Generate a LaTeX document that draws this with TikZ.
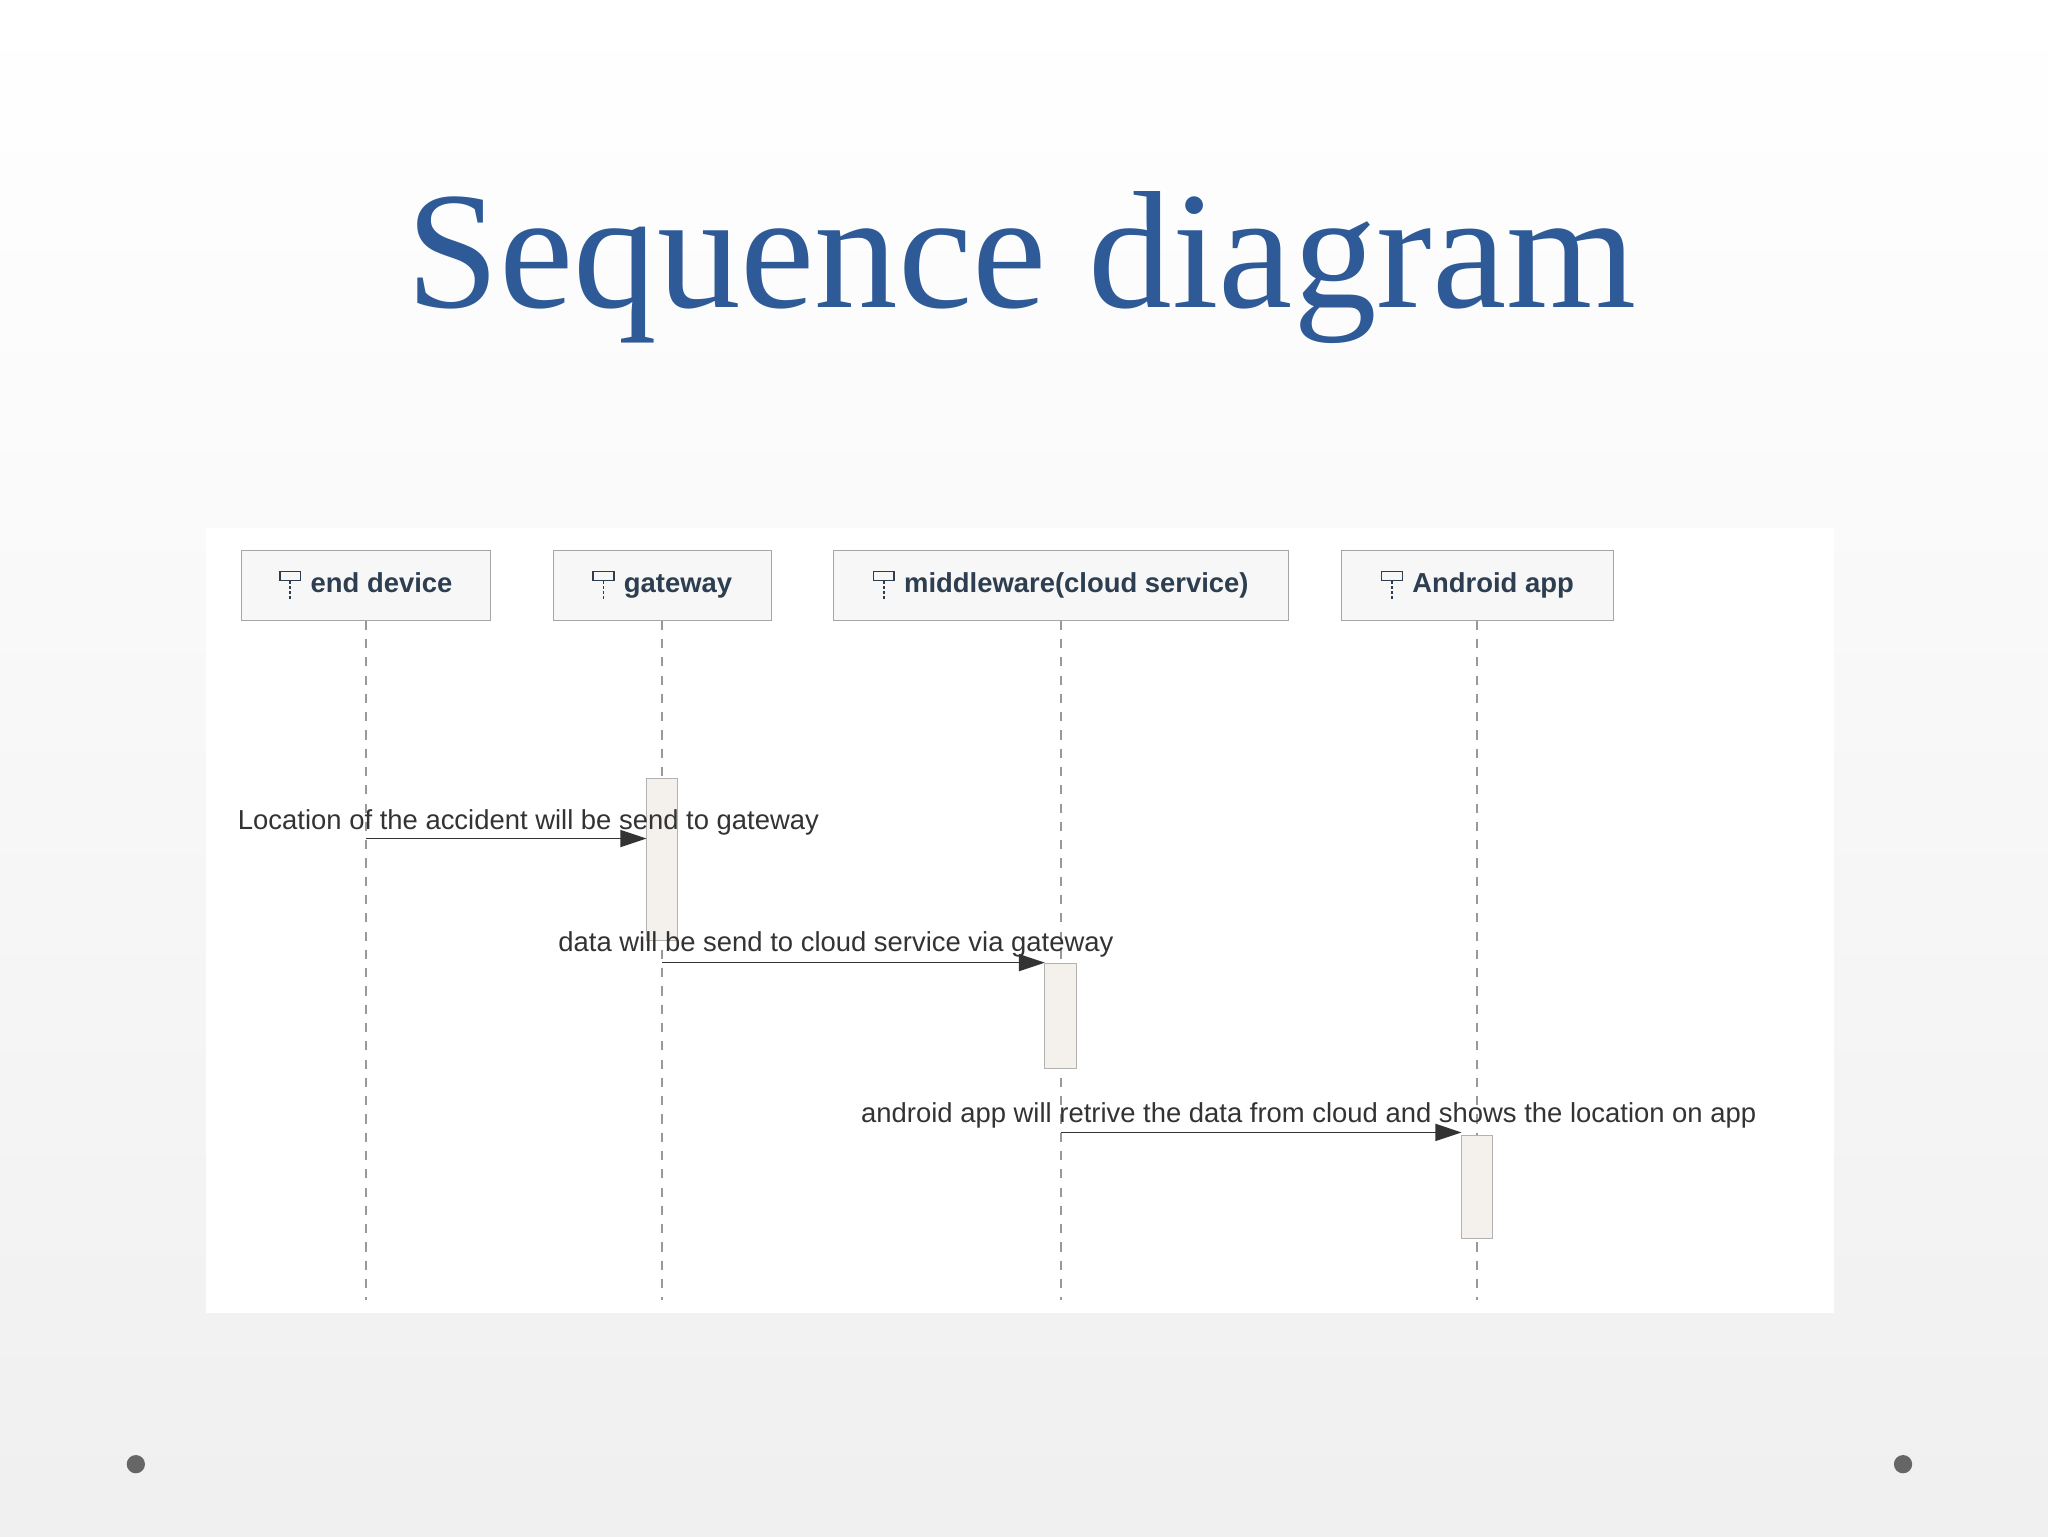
\documentclass[tikz,border=0pt]{standalone}
\usepackage{fontspec}
\setmainfont{Liberation Serif}
\newfontfamily\lsans{Liberation Sans}
\usetikzlibrary{arrows.meta}
\definecolor{titleblue}{HTML}{2E5A97}
\definecolor{hdrtext}{HTML}{2C3E50}
\definecolor{actfill}{HTML}{F4F1EC}
\tikzset{
  x=1pt,y=-1pt,
  hdr/.style={draw=gray!70,fill=gray!6,minimum height=54pt,font=\lsans\fontsize{21}{24}\selectfont\bfseries,text=hdrtext,inner sep=0pt},
  life/.style={draw=gray!80,dashed,line width=1.5pt,dash pattern=on 7pt off 7pt},
  act/.style={draw=gray!60,fill=actfill,line width=0.8pt},
  msg/.style={draw=gray!40!black,line width=1.2pt,-{Triangle[length=20pt,width=13pt]}},
  lbl/.style={font=\lsans\fontsize{21}{24}\selectfont,text=black!80,inner sep=0pt},
}
\newcommand{\lficon}{\tikz[baseline=-2pt,x=1pt,y=1pt]{\draw[line width=1.2pt,hdrtext] (0,7) rectangle (16,14); \draw[line width=1.2pt,hdrtext,dashed,dash pattern=on 2.5pt off 1.5pt] (8,7)--(8,-7);}\,\,}
\begin{document}
\begin{tikzpicture}
\shade[top color=white,bottom color=gray!12] (0,0) rectangle (1568,1176);
\useasboundingbox (0,0) rectangle (1568,1176);
\node[font=\fontsize{128}{140}\selectfont,text=titleblue] (title) at (782,205) {Sequence diagram};
\fill[white] (158,404) rectangle (1404,1005);
\node[hdr,minimum width=191pt] (ed) at (280,448) {\lficon end device};
\node[hdr,minimum width=167pt] (gw) at (507,448) {\lficon gateway};
\node[hdr,minimum width=348pt] (mw) at (812,448) {\lficon middleware(cloud service)};
\node[hdr,minimum width=208pt] (aa) at (1131,448) {\lficon Android app};
\coordinate (edE) at (280,995);
\coordinate (gwE) at (507,995);
\coordinate (mwE) at (812,995);
\coordinate (aaE) at (1131,995);
\draw[life] (ed.south) -- (edE);
\draw[life] (gw.south) -- (gwE);
\draw[life] (mw.south) -- (mwE);
\draw[life] (aa.south) -- (aaE);
\draw[act] (495,596) rectangle (519,720);
\draw[act] (800,738) rectangle (824,818);
\draw[act] (1119,869) rectangle (1143,948);
\coordinate (m1a) at (280,642); \coordinate (m1b) at (495,642);
\coordinate (m2a) at (507,737); \coordinate (m2b) at (800,737);
\coordinate (m3a) at (812,867); \coordinate (m3b) at (1119,867);
\draw[msg] (m1a) -- (m1b);
\draw[msg] (m2a) -- (m2b);
\draw[msg] (m3a) -- (m3b);
\node[lbl,anchor=west] (l1) at (182,630) {Location of the accident will be send to gateway};
\node[lbl] (l2) at (640,723) {data will be send to cloud service via gateway};
\node[lbl] (l3) at (1002,854) {android app will retrive the data from cloud and shows the location on app};
\fill[gray!80!black] (104,1121) circle (7);
\fill[gray!80!black] (1457,1121) circle (7);
\end{tikzpicture}
\end{document}
